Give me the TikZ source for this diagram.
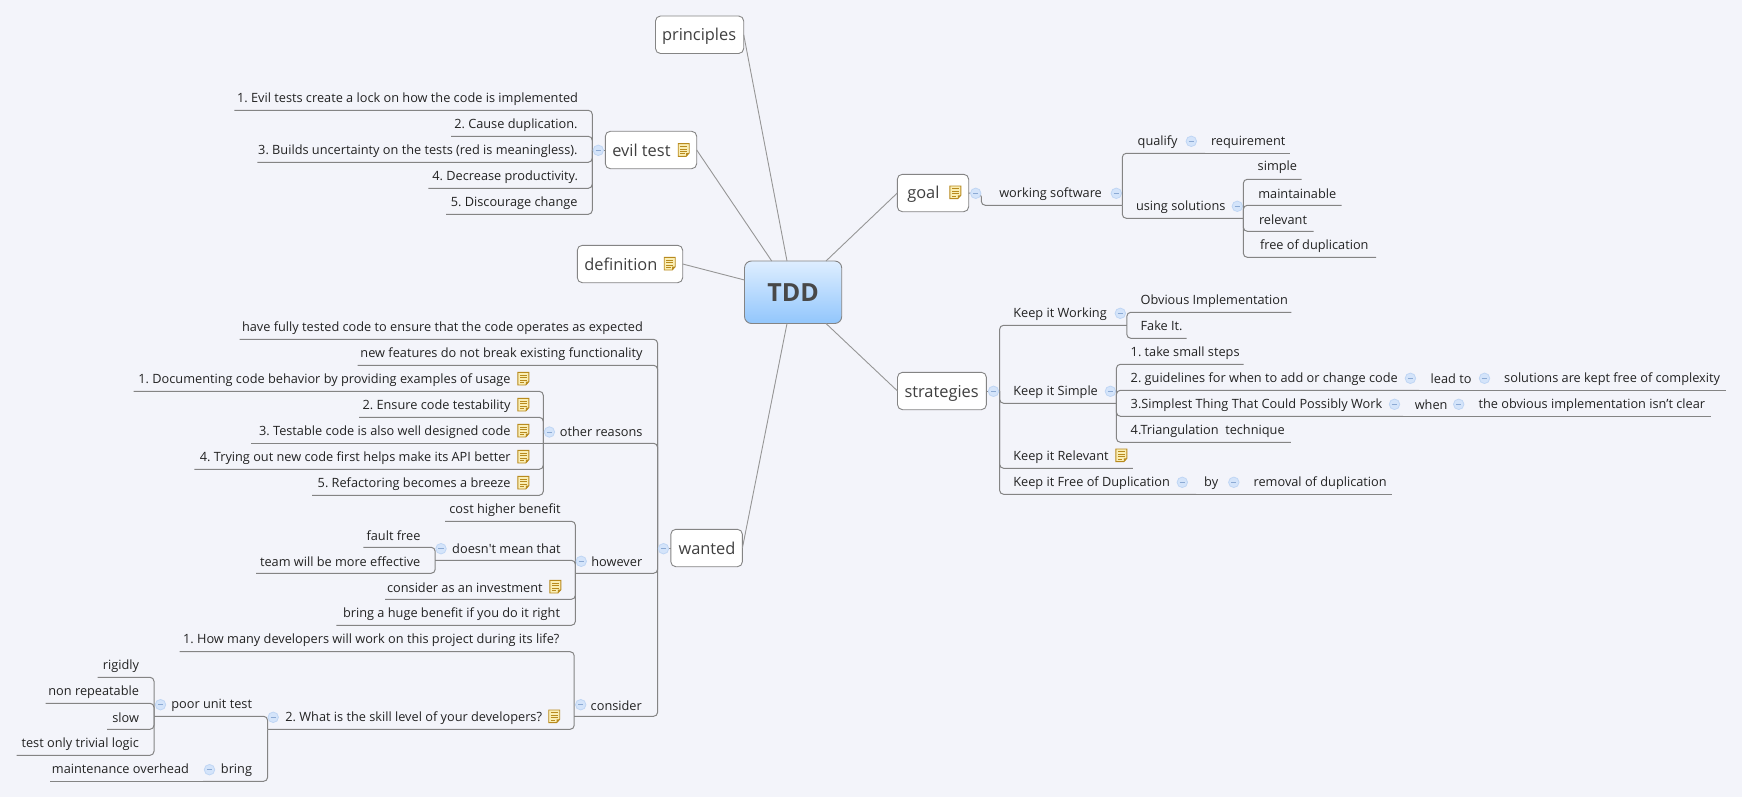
\documentclass[tikz,border=0pt]{standalone}
\usepackage{fontspec}
\setmainfont{Open Sans}
\usetikzlibrary{calc}
\definecolor{bgc}{RGB}{243,244,250}
\definecolor{linec}{RGB}{132,132,132}
\definecolor{mainline}{RGB}{150,150,150}
\definecolor{txtc}{RGB}{34,34,34}
\definecolor{maintxt}{RGB}{64,64,64}
\definecolor{knobfill}{RGB}{212,228,250}
\definecolor{knobline}{RGB}{192,214,244}
\definecolor{knobminus}{RGB}{140,170,212}
\definecolor{notefill}{RGB}{250,238,180}
\definecolor{noteline}{RGB}{184,138,30}
\definecolor{rootTop}{RGB}{222,238,255}
\definecolor{rootBot}{RGB}{146,198,252}
\definecolor{rootTxt}{RGB}{72,72,72}
\newcounter{knobno}
\newcommand\smallfont{\frenchspacing\fontsize{12.75}{15}\selectfont}
\newcommand\dn[1]{\raisebox{-1pt}{#1}}
\tikzset{
  topicnode/.style={inner sep=0pt,outer sep=0pt,text height=10pt,text depth=8pt,text=txtc,font=\smallfont},
  mainnode/.style={draw=linec,line width=.9pt,fill=white,rounded corners=5pt,inner sep=0pt,outer sep=0pt,text=maintxt,font=\fontsize{16.4}{20}\selectfont},
  rootnode/.style={draw=linec,line width=.9pt,rounded corners=7pt,inner sep=0pt,outer sep=0pt,top color=rootTop,bottom color=rootBot,text=rootTxt,font=\fontsize{25}{28}\selectfont\bfseries},
  conn/.style={draw=linec,line width=1pt,rounded corners=4pt},
  mainconn/.style={draw=mainline,line width=.9pt},
  knobstyle/.style={circle,draw=knobline,fill=knobfill,line width=.8pt,minimum size=10.5pt,inner sep=0pt,
    path picture={\draw[knobminus,line width=.8pt] ([xshift=-2.6pt]path picture bounding box.center) -- ([xshift=2.6pt]path picture bounding box.center);}},
}
% right-growing topic: name, left, right, underline y, text start, text
\newcommand\tRight[6]{%
  \pgfmathsetlengthmacro\boxW{(#3-#2)*1pt}\pgfmathsetlengthmacro\boxP{(#5-#2)*1pt}%
  \node[topicnode,anchor=south west] (#1) at (#2,#4) {\makebox[\boxW][l]{\hspace*{\boxP}#6}};}
% left-growing topic: name, left, right, underline y, text end, text
\newcommand\tLeft[6]{%
  \pgfmathsetlengthmacro\boxW{(#3-#2)*1pt}\pgfmathsetlengthmacro\boxP{(#3-#5)*1pt}%
  \node[topicnode,anchor=south west] (#1) at (#2,#4) {\makebox[\boxW][r]{#6\hspace*{\boxP}}};}
% main box: name, left, right, top, bottom, text start, text
\newcommand\mainBox[7]{%
  \pgfmathsetlengthmacro\boxW{(#3-#2)*1pt}\pgfmathsetlengthmacro\boxH{(#5-#4)*1pt}\pgfmathsetlengthmacro\boxP{(#6-#2)*1pt}%
  \node[mainnode,anchor=north west,minimum height=\boxH,text height=14pt,text depth=1pt] (#1) at (#2,#4) {\makebox[\boxW][l]{\hspace*{\boxP}#7}};}
\newcommand\boughR[2]{\draw[conn] (#1) -- (#2.south west) -- (#2.south east);}
\newcommand\boughL[2]{\draw[conn] (#1) -- (#2.south east) -- (#2.south west);}
\newcommand\knobAt[2]{\stepcounter{knobno}\node[knobstyle] (k\arabic{knobno}) at (#1,#2) {};}
\newcommand\noteAt[2]{%
  \begin{scope}[shift={(#1,#2)}]
    \fill[notefill] (-5.5,-6.3) -- (5.5,-6.3) -- (5.5,3) -- (2.5,6.3) -- (-5.5,6.3) -- cycle;
    \draw[noteline,line width=.9pt] (5.5,3) -- (5.5,-6.3) -- (-5.5,-6.3) -- (-5.5,6.3) -- (2.5,6.3) -- cycle;
    \draw[noteline,line width=.8pt] (-3.3,-3.5) -- (3.3,-3.5) (-3.3,-1) -- (3.3,-1) (-3.3,1.5) -- (3.3,1.5) (-3.3,3.8) -- (0.8,3.8);
    \fill[noteline] (5.5,3) -- (2.5,3) -- (2.5,6.3) -- cycle;
  \end{scope}}
\begin{document}
\begin{tikzpicture}[x=1pt,y=-1pt]
\useasboundingbox (0,0) rectangle (1742,797);
\fill[bgc] (0,0) rectangle (1742,797);

% root and main topics
\node[rootnode,anchor=north west,minimum width=97.2pt,minimum height=62.5pt] (TDD) at (744.5,261) {\raisebox{-1pt}{TDD}};
\mainBox{principles}{655.5}{743.7}{16}{53.5}{662}{\raisebox{1pt}{principles}}
\mainBox{evil}{605.3}{696.7}{131.3}{168.7}{612.3}{evil test}
\mainBox{definition}{577.3}{682.7}{245.3}{282.7}{584.3}{definition}
\mainBox{goal}{897.3}{968.7}{174.3}{211.7}{907.3}{\raisebox{.7pt}{goal}}
\mainBox{strategies}{897.5}{986.4}{372.3}{409.7}{904.5}{strategies}
\mainBox{wanted}{670.8}{742.4}{529.3}{566.7}{678.5}{wanted}

\coordinate (rootA) at (771.7,261);
\coordinate (rootB) at (787,261);
\coordinate (rootC) at (826,261);
\coordinate (rootD) at (744.5,280);
\coordinate (rootE) at (826,323.5);
\coordinate (rootF) at (787,323.5);
\draw[mainconn] (principles.east) -- (rootB);
\draw[mainconn] (evil.east) -- (rootA);
\draw[mainconn] (definition.east) -- (rootD);
\draw[mainconn] (goal.west) -- (rootC);
\draw[mainconn] (strategies.west) -- (rootE);
\draw[mainconn] (wanted.east) -- (rootF);

% evil test
\tLeft{evA}{234.3}{592.3}{110.3}{578}{1. Evil tests create a lock on how the code is implemented}
\tLeft{evB}{451}{592.3}{136.3}{577.5}{2. Cause duplication.}
\tLeft{evC}{257.3}{592.3}{162.3}{577.5}{3. Builds uncertainty on the tests (red is meaningless).}
\tLeft{evD}{428.3}{592.3}{188.3}{578}{4. Decrease productivity.}
\tLeft{evE}{446}{592.3}{214.3}{577.5}{5. Discourage change}
\coordinate (evStub) at (evC.south east |- evil.west);
\draw[conn] (evil.west) -- (evStub);
\foreach \c in {evA,evB,evC,evD,evE} {\boughL{evStub}{\c}}
\knobAt{598.3}{150.3}
\noteAt{683.7}{150}
\noteAt{669.7}{263.7}

% goal
\tRight{ws}{981.3}{1122.3}{205.3}{999.3}{working software}
\coordinate (goalStub) at (ws.south west |- goal.east);
\draw[conn] (goal.east) -- (goalStub) -- (ws.south west) -- (ws.south east);
\knobAt{975.7}{193.3}
\noteAt{955.3}{192.3}
\knobAt{1116.3}{193.3}
\tRight{qualify}{1122.3}{1205}{153.3}{1137.7}{qualify}
\tRight{requirement}{1205}{1289.7}{153.3}{1211}{requirement}
\tRight{using}{1122.3}{1243.3}{218.3}{1136}{using solutions}
\boughR{ws.south east}{qualify}
\draw[conn] (qualify.south east) -- (requirement.south east);
\boughR{ws.south east}{using}
\knobAt{1191.3}{141.3}
\knobAt{1237.3}{206.3}
\tRight{simple}{1243.3}{1301.7}{179.3}{1257.7}{\raisebox{.5pt}{simple}}
\tRight{maintainable}{1243.3}{1341.7}{205.3}{1258.3}{\dn{maintainable}}
\tRight{relevant}{1243.3}{1313.7}{231.3}{1259}{\dn{relevant}}
\tRight{freedup}{1243.3}{1376}{257.3}{1260}{free of duplication}
\foreach \c in {simple,maintainable,relevant,freedup} {\boughR{using.south east}{\c}}

% strategies
\tRight{kw}{999.6}{1126.8}{325.3}{1013.3}{Keep it Working}
\tRight{ks}{999.6}{1116.4}{403.3}{1013.3}{Keep it Simple}
\tRight{kr}{999.6}{1132.9}{468.3}{1013.3}{Keep it Relevant}
\tRight{kf}{999.6}{1196}{494.3}{1013.3}{Keep it Free of Duplication}
\coordinate (stStub) at (kw.south west |- strategies.east);
\draw[conn] (strategies.east) -- (stStub);
\foreach \c in {kw,ks,kr,kf} {\boughR{stStub}{\c}}
\knobAt{993.5}{391.3}
\knobAt{1120.3}{313.3}
\knobAt{1110.4}{391.3}
\noteAt{1121.4}{455.3}
\tRight{obv}{1126.8}{1291.4}{312.3}{1140.6}{Obvious Implementation}
\tRight{fake}{1126.8}{1186.6}{338.3}{1140.6}{Fake It.}
\boughR{kw.south east}{obv}
\boughR{kw.south east}{fake}
\tRight{sa}{1116.4}{1243.7}{364.3}{1130.7}{1. take small steps}
\tRight{sb}{1116.4}{1419}{390.3}{1130.7}{2. guidelines for when to add or change code}
\tRight{sc}{1116.4}{1403}{416.3}{1130.7}{3.Simplest Thing That Could Possibly Work}
\tRight{sd}{1116.4}{1290.9}{442.3}{1130.7}{4.Triangulation\ \ technique}
\foreach \c in {sa,sb,sc,sd} {\boughR{ks.south east}{\c}}
\tRight{lead}{1419}{1492}{390.3}{1430.7}{\dn{lead to}}
\tRight{sol}{1492}{1725.9}{390.3}{1504.2}{solutions are kept free of complexity}
\draw[conn] (sb.south east) -- (lead.south east) -- (sol.south east);
\tRight{when}{1403}{1467}{416.3}{1414.8}{\dn{when}}
\tRight{obvclear}{1467}{1710.5}{416.3}{1478.5}{the obvious implementation isn’t clear}
\draw[conn] (sc.south east) -- (when.south east) -- (obvclear.south east);
\tRight{by}{1196}{1242}{494.3}{1204.2}{by}
\tRight{removal}{1242}{1391.8}{494.3}{1253.6}{removal of duplication}
\draw[conn] (kf.south east) -- (by.south east) -- (removal.south east);
\knobAt{1410.4}{378.3}
\knobAt{1484.5}{378.3}
\knobAt{1394.5}{404.3}
\knobAt{1458.7}{404.3}
\knobAt{1182.3}{482.3}
\knobAt{1233.8}{482.3}

% wanted
\tLeft{wa}{239.6}{657.6}{339.3}{642.9}{have fully tested code to ensure that the code operates as expected}
\tLeft{wb}{357.6}{657.6}{365.3}{642.5}{new features do not break existing functionality}
\tLeft{other}{543.3}{657.6}{443.3}{642.5}{\dn{other reasons}}
\tLeft{however}{575.4}{657.6}{573.3}{642.2}{\dn{however}}
\tLeft{consider}{574.2}{657.6}{716.3}{641.8}{\raisebox{-2pt}{consider}}
\coordinate (waStub) at (other.south east |- wanted.west);
\draw[conn] (wanted.west) -- (waStub);
\foreach \c in {wa,wb,other,however,consider} {\boughL{waStub}{\c}}
\knobAt{663.5}{548.7}
% other reasons
\tLeft{oa}{133.5}{543.3}{391.3}{510.6}{1. Documenting code behavior by providing examples of usage}
\tLeft{ob}{359}{543.3}{417.3}{510.6}{2. Ensure code testability}
\tLeft{oc}{251.4}{543.3}{443.3}{510.6}{3. Testable code is also well designed code}
\tLeft{od}{194.3}{543.3}{469.3}{510.6}{4. Trying out new code first helps make its API better}
\tLeft{oe}{312.2}{543.3}{495.3}{510.6}{5. Refactoring becomes a breeze}
\boughL{other.south west}{oa}
\boughL{other.south west}{ob}
\draw[conn] (other.south west) -- (oc.south west);
\boughL{other.south west}{od}
\boughL{other.south west}{oe}
\knobAt{549.4}{432}
\noteAt{523.3}{378.7}
\noteAt{523.3}{404.7}
\noteAt{523.3}{430.7}
\noteAt{523.3}{456.7}
\noteAt{523.3}{482.7}
% however
\tLeft{ha}{445.2}{575.4}{521.3}{560.6}{cost higher benefit}
\tLeft{hb}{435.2}{575.4}{560.3}{560.6}{\dn{doesn\textquotesingle t mean that}}
\tLeft{hc}{385}{575.4}{599.3}{542.7}{\dn{consider as an investment}}
\tLeft{hd}{336.4}{575.4}{625.3}{560}{bring a huge benefit if you do it right}
\foreach \c in {ha,hb,hc,hd} {\boughL{however.south west}{\c}}
\knobAt{581.2}{561.3}
\noteAt{555.4}{586.7}
\tLeft{hba}{363.3}{435.2}{547.3}{420.4}{\dn{fault free}}
\tLeft{hbb}{256.2}{435.2}{573.3}{420.4}{\dn{team will be more effective}}
\boughL{hb.south west}{hba}
\boughL{hb.south west}{hbb}
\knobAt{441}{548.7}
% consider
\tLeft{ca}{179.5}{574.2}{651.7}{559.4}{1. How many developers will work on this project during its life?}
\tLeft{cb}{267.6}{574.2}{729.3}{542}{2. What is the skill level of your developers?}
\boughL{consider.south west}{ca}
\boughL{consider.south west}{cb}
\knobAt{580.7}{704.7}
\noteAt{554.2}{716.3}
\tLeft{poor}{154}{267.6}{716.3}{252}{poor unit test}
\tLeft{bring}{203}{267.6}{781.3}{252}{bring}
\boughL{cb.south west}{poor}
\boughL{cb.south west}{bring}
\knobAt{273.2}{717.3}
\tLeft{pa}{97.6}{154}{677.3}{139}{rigidly}
\tLeft{pb}{45.5}{154}{703.3}{139}{non repeatable}
\tLeft{pc}{107}{154}{729.3}{139}{\dn{slow}}
\tLeft{pd}{16.5}{154}{755.3}{139}{test only trivial logic}
\foreach \c in {pa,pb,pc,pd} {\boughL{poor.south west}{\c}}
\knobAt{160.5}{704.7}
\tLeft{maint}{50.3}{203}{781.3}{189}{maintenance overhead}
\draw[conn] (bring.south west) -- (maint.south west);
\knobAt{209.5}{769.7}
\end{tikzpicture}
\end{document}
